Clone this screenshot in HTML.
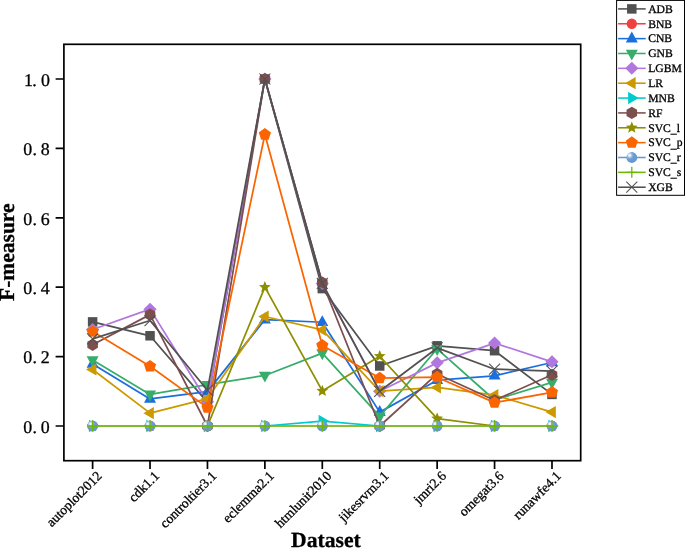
<!DOCTYPE html>
<html><head><meta charset="utf-8"><title>F-measure by Dataset</title>
<style>html,body{margin:0;padding:0;background:#fff}svg{display:block}text{font-family:"Liberation Serif",serif;text-rendering:geometricPrecision;fill:#000;stroke:#000;stroke-width:0.3px}</style></head><body>
<svg width="685" height="548" viewBox="0 0 685 548">
<defs><radialGradient id="sph" cx="0.3" cy="0.3" r="0.75" fx="0.3" fy="0.3"><stop offset="0" stop-color="#ffffff"/><stop offset="0.12" stop-color="#e4eef8"/><stop offset="0.32" stop-color="#8fb4de"/><stop offset="0.5" stop-color="#6b9dd3"/><stop offset="1" stop-color="#6397cf"/></radialGradient></defs>
<rect width="685" height="548" fill="#fff"/>
<g>
<polyline points="92.61,321.9 150.03,335.78 207.46,402.4 264.88,79 322.3,288.59 379.72,365.97 437.14,345.84 494.57,350.7 551.99,394.42" fill="none" stroke="#515151" stroke-width="1.75" stroke-linejoin="round"/>
<rect x="87.86" y="317.15" width="9.5" height="9.5" fill="#515151"/>
<rect x="145.28" y="331.03" width="9.5" height="9.5" fill="#515151"/>
<rect x="202.71" y="397.65" width="9.5" height="9.5" fill="#515151"/>
<rect x="260.13" y="74.25" width="9.5" height="9.5" fill="#515151"/>
<rect x="317.55" y="283.84" width="9.5" height="9.5" fill="#515151"/>
<rect x="374.97" y="361.22" width="9.5" height="9.5" fill="#515151"/>
<rect x="432.39" y="341.09" width="9.5" height="9.5" fill="#515151"/>
<rect x="489.82" y="345.95" width="9.5" height="9.5" fill="#515151"/>
<rect x="547.24" y="389.67" width="9.5" height="9.5" fill="#515151"/>
</g>
<g>
<polyline points="92.61,426 150.03,426 207.46,426 264.88,426 322.3,426 379.72,426 437.14,426 494.57,426 551.99,426" fill="none" stroke="#F14040" stroke-width="0.4" stroke-linejoin="round"/>
<circle cx="92.61" cy="426" r="5.15" fill="#F14040"/>
<circle cx="150.03" cy="426" r="5.15" fill="#F14040"/>
<circle cx="207.46" cy="426" r="5.15" fill="#F14040"/>
<circle cx="264.88" cy="426" r="5.15" fill="#F14040"/>
<circle cx="322.3" cy="426" r="5.15" fill="#F14040"/>
<circle cx="379.72" cy="426" r="5.15" fill="#F14040"/>
<circle cx="437.14" cy="426" r="5.15" fill="#F14040"/>
<circle cx="494.57" cy="426" r="5.15" fill="#F14040"/>
<circle cx="551.99" cy="426" r="5.15" fill="#F14040"/>
</g>
<g>
<polyline points="92.61,363.89 150.03,398.93 207.46,391.65 264.88,319.61 322.3,322.25 379.72,412.12 437.14,380.2 494.57,375.79 551.99,362.5" fill="none" stroke="#1A6FDF" stroke-width="1.75" stroke-linejoin="round"/>
<polygon points="92.61,356.79 98.61,367.69 86.61,367.69" fill="#1A6FDF"/>
<polygon points="150.03,391.83 156.03,402.73 144.03,402.73" fill="#1A6FDF"/>
<polygon points="207.46,384.55 213.46,395.45 201.46,395.45" fill="#1A6FDF"/>
<polygon points="264.88,312.51 270.88,323.41 258.88,323.41" fill="#1A6FDF"/>
<polygon points="322.3,315.15 328.3,326.05 316.3,326.05" fill="#1A6FDF"/>
<polygon points="379.72,405.02 385.72,415.92 373.72,415.92" fill="#1A6FDF"/>
<polygon points="437.14,373.1 443.14,384 431.14,384" fill="#1A6FDF"/>
<polygon points="494.57,368.69 500.57,379.59 488.57,379.59" fill="#1A6FDF"/>
<polygon points="551.99,355.4 557.99,366.3 545.99,366.3" fill="#1A6FDF"/>
</g>
<g>
<polyline points="92.61,360.07 150.03,394.42 207.46,384.71 264.88,375.48 322.3,353.13 379.72,416.42 437.14,348.79 494.57,399.98 551.99,382.45" fill="none" stroke="#37AD6B" stroke-width="1.75" stroke-linejoin="round"/>
<polygon points="92.61,367.17 98.61,356.27 86.61,356.27" fill="#37AD6B"/>
<polygon points="150.03,401.52 156.03,390.62 144.03,390.62" fill="#37AD6B"/>
<polygon points="207.46,391.81 213.46,380.91 201.46,380.91" fill="#37AD6B"/>
<polygon points="264.88,382.58 270.88,371.68 258.88,371.68" fill="#37AD6B"/>
<polygon points="322.3,360.23 328.3,349.33 316.3,349.33" fill="#37AD6B"/>
<polygon points="379.72,423.52 385.72,412.62 373.72,412.62" fill="#37AD6B"/>
<polygon points="437.14,355.89 443.14,344.99 431.14,344.99" fill="#37AD6B"/>
<polygon points="494.57,407.08 500.57,396.18 488.57,396.18" fill="#37AD6B"/>
<polygon points="551.99,389.55 557.99,378.65 545.99,378.65" fill="#37AD6B"/>
</g>
<g>
<polyline points="92.61,329.53 150.03,309.13 207.46,401.71 264.88,79 322.3,283.38 379.72,391.3 437.14,362.85 494.57,343.07 551.99,361.81" fill="none" stroke="#B177DE" stroke-width="1.75" stroke-linejoin="round"/>
<polygon points="92.61,323.03 99.21,329.53 92.61,336.03 86.01,329.53" fill="#B177DE"/>
<polygon points="150.03,302.63 156.63,309.13 150.03,315.63 143.43,309.13" fill="#B177DE"/>
<polygon points="207.46,395.21 214.06,401.71 207.46,408.21 200.86,401.71" fill="#B177DE"/>
<polygon points="264.88,72.5 271.48,79 264.88,85.5 258.28,79" fill="#B177DE"/>
<polygon points="322.3,276.88 328.9,283.38 322.3,289.88 315.7,283.38" fill="#B177DE"/>
<polygon points="379.72,384.8 386.32,391.3 379.72,397.8 373.12,391.3" fill="#B177DE"/>
<polygon points="437.14,356.35 443.74,362.85 437.14,369.35 430.54,362.85" fill="#B177DE"/>
<polygon points="494.57,336.57 501.17,343.07 494.57,349.57 487.97,343.07" fill="#B177DE"/>
<polygon points="551.99,355.31 558.59,361.81 551.99,368.31 545.39,361.81" fill="#B177DE"/>
</g>
<g>
<polyline points="92.61,369.44 150.03,413.16 207.46,398.59 264.88,316.52 322.3,329.88 379.72,391.2 437.14,387.48 494.57,395.12 551.99,412.12" fill="none" stroke="#CC9900" stroke-width="1.75" stroke-linejoin="round"/>
<polygon points="86.01,369.44 96.41,363.34 96.41,375.54" fill="#CC9900"/>
<polygon points="143.43,413.16 153.83,407.06 153.83,419.26" fill="#CC9900"/>
<polygon points="200.86,398.59 211.26,392.49 211.26,404.69" fill="#CC9900"/>
<polygon points="258.28,316.52 268.68,310.42 268.68,322.62" fill="#CC9900"/>
<polygon points="315.7,329.88 326.1,323.78 326.1,335.98" fill="#CC9900"/>
<polygon points="373.12,391.2 383.52,385.1 383.52,397.3" fill="#CC9900"/>
<polygon points="430.54,387.48 440.94,381.38 440.94,393.58" fill="#CC9900"/>
<polygon points="487.97,395.12 498.37,389.02 498.37,401.22" fill="#CC9900"/>
<polygon points="545.39,412.12 555.79,406.02 555.79,418.22" fill="#CC9900"/>
</g>
<g>
<polyline points="92.61,426 150.03,426 207.46,426 264.88,426" fill="none" stroke="#00CBCC" stroke-width="0.4" stroke-linejoin="round"/>
<polyline points="264.88,426 322.3,421.07 379.72,426" fill="none" stroke="#00CBCC" stroke-width="1.75" stroke-linejoin="round"/>
<polyline points="379.72,426 437.14,426 494.57,426 551.99,426" fill="none" stroke="#00CBCC" stroke-width="0.4" stroke-linejoin="round"/>
<polygon points="99.51,426 88.91,419.8 88.91,432.2" fill="#00CBCC"/>
<polygon points="156.93,426 146.33,419.8 146.33,432.2" fill="#00CBCC"/>
<polygon points="214.36,426 203.76,419.8 203.76,432.2" fill="#00CBCC"/>
<polygon points="271.78,426 261.18,419.8 261.18,432.2" fill="#00CBCC"/>
<polygon points="329.2,421.07 318.6,414.87 318.6,427.27" fill="#00CBCC"/>
<polygon points="386.62,426 376.02,419.8 376.02,432.2" fill="#00CBCC"/>
<polygon points="444.04,426 433.44,419.8 433.44,432.2" fill="#00CBCC"/>
<polygon points="501.47,426 490.87,419.8 490.87,432.2" fill="#00CBCC"/>
<polygon points="558.89,426 548.29,419.8 548.29,432.2" fill="#00CBCC"/>
</g>
<g>
<polyline points="92.61,344.8 150.03,314.61 207.46,426 264.88,79 322.3,282.48 379.72,426 437.14,373.95 494.57,400.32 551.99,374.78" fill="none" stroke="#7D4E4E" stroke-width="1.75" stroke-linejoin="round"/>
<polygon points="92.61,338.7 97.89,341.75 97.89,347.85 92.61,350.9 87.33,347.85 87.33,341.75" fill="#7D4E4E"/>
<polygon points="150.03,308.51 155.32,311.56 155.32,317.66 150.03,320.71 144.75,317.66 144.75,311.56" fill="#7D4E4E"/>
<polygon points="207.46,419.9 212.74,422.95 212.74,429.05 207.46,432.1 202.17,429.05 202.17,422.95" fill="#7D4E4E"/>
<polygon points="264.88,72.9 270.16,75.95 270.16,82.05 264.88,85.1 259.6,82.05 259.6,75.95" fill="#7D4E4E"/>
<polygon points="322.3,276.38 327.58,279.43 327.58,285.53 322.3,288.58 317.02,285.53 317.02,279.43" fill="#7D4E4E"/>
<polygon points="379.72,419.9 385,422.95 385,429.05 379.72,432.1 374.44,429.05 374.44,422.95" fill="#7D4E4E"/>
<polygon points="437.14,367.85 442.43,370.9 442.43,377 437.14,380.05 431.86,377 431.86,370.9" fill="#7D4E4E"/>
<polygon points="494.57,394.22 499.85,397.27 499.85,403.37 494.57,406.42 489.28,403.37 489.28,397.27" fill="#7D4E4E"/>
<polygon points="551.99,368.68 557.27,371.73 557.27,377.83 551.99,380.88 546.71,377.83 546.71,371.73" fill="#7D4E4E"/>
</g>
<g>
<polyline points="92.61,426 150.03,426 207.46,426" fill="none" stroke="#8E8E00" stroke-width="0.4" stroke-linejoin="round"/>
<polyline points="207.46,426 264.88,287.2 322.3,390.95 379.72,356.25 437.14,418.61 494.57,426" fill="none" stroke="#8E8E00" stroke-width="1.75" stroke-linejoin="round"/>
<polyline points="494.57,426 551.99,426" fill="none" stroke="#8E8E00" stroke-width="0.4" stroke-linejoin="round"/>
<polygon points="92.61,419.8 94.25,423.74 98.51,424.08 95.26,426.86 96.26,431.02 92.61,428.79 88.97,431.02 89.96,426.86 86.71,424.08 90.97,423.74" fill="#8E8E00"/>
<polygon points="150.03,419.8 151.67,423.74 155.93,424.08 152.69,426.86 153.68,431.02 150.03,428.79 146.39,431.02 147.38,426.86 144.14,424.08 148.39,423.74" fill="#8E8E00"/>
<polygon points="207.46,419.8 209.1,423.74 213.35,424.08 210.11,426.86 211.1,431.02 207.46,428.79 203.81,431.02 204.8,426.86 201.56,424.08 205.82,423.74" fill="#8E8E00"/>
<polygon points="264.88,281 266.52,284.94 270.77,285.28 267.53,288.06 268.52,292.22 264.88,289.99 261.23,292.22 262.22,288.06 258.98,285.28 263.24,284.94" fill="#8E8E00"/>
<polygon points="322.3,384.75 323.94,388.7 328.2,389.04 324.95,391.82 325.94,395.97 322.3,393.74 318.66,395.97 319.65,391.82 316.4,389.04 320.66,388.7" fill="#8E8E00"/>
<polygon points="379.72,350.05 381.36,354 385.62,354.34 382.38,357.12 383.37,361.27 379.72,359.04 376.08,361.27 377.07,357.12 373.83,354.34 378.08,354" fill="#8E8E00"/>
<polygon points="437.14,412.41 438.78,416.35 443.04,416.69 439.8,419.47 440.79,423.62 437.14,421.4 433.5,423.62 434.49,419.47 431.25,416.69 435.5,416.35" fill="#8E8E00"/>
<polygon points="494.57,419.8 496.21,423.74 500.46,424.08 497.22,426.86 498.21,431.02 494.57,428.79 490.92,431.02 491.91,426.86 488.67,424.08 492.93,423.74" fill="#8E8E00"/>
<polygon points="551.99,419.8 553.63,423.74 557.89,424.08 554.64,426.86 555.63,431.02 551.99,428.79 548.34,431.02 549.34,426.86 546.09,424.08 550.35,423.74" fill="#8E8E00"/>
</g>
<g>
<polyline points="92.61,331.62 150.03,366.32 207.46,407.61 264.88,134.52 322.3,345.5 379.72,378.11 437.14,377.18 494.57,402.65 551.99,392.34" fill="none" stroke="#FB6501" stroke-width="1.75" stroke-linejoin="round"/>
<polygon points="92.61,325.22 98.7,329.64 96.37,336.79 88.85,336.79 86.52,329.64" fill="#FB6501"/>
<polygon points="150.03,359.92 156.12,364.34 153.8,371.49 146.27,371.49 143.95,364.34" fill="#FB6501"/>
<polygon points="207.46,401.21 213.54,405.63 211.22,412.79 203.69,412.79 201.37,405.63" fill="#FB6501"/>
<polygon points="264.88,128.12 270.96,132.54 268.64,139.7 261.12,139.7 258.79,132.54" fill="#FB6501"/>
<polygon points="322.3,339.1 328.39,343.52 326.06,350.67 318.54,350.67 316.21,343.52" fill="#FB6501"/>
<polygon points="379.72,371.71 385.81,376.14 383.48,383.29 375.96,383.29 373.64,376.14" fill="#FB6501"/>
<polygon points="437.14,370.78 443.23,375.2 440.91,382.35 433.38,382.35 431.06,375.2" fill="#FB6501"/>
<polygon points="494.57,396.25 500.65,400.67 498.33,407.82 490.8,407.82 488.48,400.67" fill="#FB6501"/>
<polygon points="551.99,385.94 558.08,390.36 555.75,397.52 548.23,397.52 545.9,390.36" fill="#FB6501"/>
</g>
<g>
<polyline points="92.61,426 150.03,426 207.46,426 264.88,426 322.3,426 379.72,426 437.14,426 494.57,426 551.99,426" fill="none" stroke="#6699CC" stroke-width="0.4" stroke-linejoin="round"/>
<circle cx="92.61" cy="426" r="5.4" fill="url(#sph)"/>
<circle cx="150.03" cy="426" r="5.4" fill="url(#sph)"/>
<circle cx="207.46" cy="426" r="5.4" fill="url(#sph)"/>
<circle cx="264.88" cy="426" r="5.4" fill="url(#sph)"/>
<circle cx="322.3" cy="426" r="5.4" fill="url(#sph)"/>
<circle cx="379.72" cy="426" r="5.4" fill="url(#sph)"/>
<circle cx="437.14" cy="426" r="5.4" fill="url(#sph)"/>
<circle cx="494.57" cy="426" r="5.4" fill="url(#sph)"/>
<circle cx="551.99" cy="426" r="5.4" fill="url(#sph)"/>
</g>
<g>
<polyline points="92.61,426 150.03,426 207.46,426 264.88,426 322.3,426 379.72,426 437.14,426 494.57,426 551.99,426" fill="none" stroke="#6FB802" stroke-width="1.6" stroke-linejoin="round"/>
<path d="M92.61 420.5V431.5M87.11 426H98.11" stroke="#6FB802" stroke-width="1.3" fill="none"/>
<path d="M150.03 420.5V431.5M144.53 426H155.53" stroke="#6FB802" stroke-width="1.3" fill="none"/>
<path d="M207.46 420.5V431.5M201.96 426H212.96" stroke="#6FB802" stroke-width="1.3" fill="none"/>
<path d="M264.88 420.5V431.5M259.38 426H270.38" stroke="#6FB802" stroke-width="1.3" fill="none"/>
<path d="M322.3 420.5V431.5M316.8 426H327.8" stroke="#6FB802" stroke-width="1.3" fill="none"/>
<path d="M379.72 420.5V431.5M374.22 426H385.22" stroke="#6FB802" stroke-width="1.3" fill="none"/>
<path d="M437.14 420.5V431.5M431.64 426H442.64" stroke="#6FB802" stroke-width="1.3" fill="none"/>
<path d="M494.57 420.5V431.5M489.07 426H500.07" stroke="#6FB802" stroke-width="1.3" fill="none"/>
<path d="M551.99 420.5V431.5M546.49 426H557.49" stroke="#6FB802" stroke-width="1.3" fill="none"/>
</g>
<g>
<polyline points="92.61,338.9 150.03,320.51 207.46,390.26 264.88,79 322.3,283.38 379.72,391.3 437.14,347.93 494.57,369.2 551.99,371.17" fill="none" stroke="#515151" stroke-width="1.75" stroke-linejoin="round"/>
<path d="M87.11 333.4L98.11 344.4M87.11 344.4L98.11 333.4" stroke="#515151" stroke-width="1.05" fill="none"/>
<path d="M144.53 315.01L155.53 326.01M144.53 326.01L155.53 315.01" stroke="#515151" stroke-width="1.05" fill="none"/>
<path d="M201.96 384.76L212.96 395.76M201.96 395.76L212.96 384.76" stroke="#515151" stroke-width="1.05" fill="none"/>
<path d="M259.38 73.5L270.38 84.5M259.38 84.5L270.38 73.5" stroke="#515151" stroke-width="1.05" fill="none"/>
<path d="M316.8 277.88L327.8 288.88M316.8 288.88L327.8 277.88" stroke="#515151" stroke-width="1.05" fill="none"/>
<path d="M374.22 385.8L385.22 396.8M374.22 396.8L385.22 385.8" stroke="#515151" stroke-width="1.05" fill="none"/>
<path d="M431.64 342.43L442.64 353.43M431.64 353.43L442.64 342.43" stroke="#515151" stroke-width="1.05" fill="none"/>
<path d="M489.07 363.7L500.07 374.7M489.07 374.7L500.07 363.7" stroke="#515151" stroke-width="1.05" fill="none"/>
<path d="M546.49 365.67L557.49 376.67M546.49 376.67L557.49 365.67" stroke="#515151" stroke-width="1.05" fill="none"/>
</g>
<rect x="63.9" y="44.3" width="516.8" height="416.4" fill="none" stroke="#000" stroke-width="1.7"/>
<path d="M92.61 460.7v8.3M150.03 460.7v8.3M207.46 460.7v8.3M264.88 460.7v8.3M322.3 460.7v8.3M379.72 460.7v8.3M437.14 460.7v8.3M494.57 460.7v8.3M551.99 460.7v8.3M63.9 426h-8.3M63.9 356.6h-8.3M63.9 287.2h-8.3M63.9 217.8h-8.3M63.9 148.4h-8.3M63.9 79h-8.3" stroke="#000" stroke-width="1.7" fill="none"/>
<text x="23.3 32.5 40.7" y="432.7" font-size="17.9" stroke-width="0.05">0.0</text>
<text x="23.3 32.5 40.7" y="363.3" font-size="17.9" stroke-width="0.05">0.2</text>
<text x="23.3 32.5 40.7" y="293.9" font-size="17.9" stroke-width="0.05">0.4</text>
<text x="23.3 32.5 40.7" y="224.5" font-size="17.9" stroke-width="0.05">0.6</text>
<text x="23.3 32.5 40.7" y="155.1" font-size="17.9" stroke-width="0.05">0.8</text>
<text x="24 32.3 41" y="85.7" font-size="17.9" stroke-width="0.05">1.0</text>
<text transform="translate(102.51 476.8) rotate(-45)" text-anchor="end" font-size="13.58">autoplot2012</text>
<text transform="translate(159.93 476.8) rotate(-45)" text-anchor="end" font-size="13.58">cdk1.1</text>
<text transform="translate(217.36 476.8) rotate(-45)" text-anchor="end" font-size="13.58">controltier3.1</text>
<text transform="translate(274.78 476.8) rotate(-45)" text-anchor="end" font-size="13.58">eclemma2.1</text>
<text transform="translate(332.2 476.8) rotate(-45)" text-anchor="end" font-size="13.58">htmlunit2010</text>
<text transform="translate(389.62 476.8) rotate(-45)" text-anchor="end" font-size="13.58">jikesrvm3.1</text>
<text transform="translate(447.04 476.8) rotate(-45)" text-anchor="end" font-size="13.58">jmri2.6</text>
<text transform="translate(504.47 476.8) rotate(-45)" text-anchor="end" font-size="13.58">omegat3.6</text>
<text transform="translate(561.89 476.8) rotate(-45)" text-anchor="end" font-size="13.58">runawfe4.1</text>
<text x="325.9" y="547.3" text-anchor="middle" font-size="21.6" font-weight="bold">Dataset</text>
<text transform="translate(14.4 252.2) rotate(-90)" text-anchor="middle" font-size="21.5" font-weight="bold">F-measure</text>
<rect x="616.6" y="0.4" width="67.9" height="194.9" fill="#fff" stroke="#000" stroke-width="1"/>
<path d="M618.1 8.9H645.7" stroke="#515151" stroke-width="1.55" fill="none"/>
<rect x="627.05" y="4.15" width="9.5" height="9.5" fill="#515151"/>
<text x="648.2" y="12.7" font-size="11.65">ADB</text>
<path d="M618.1 23.76H645.7" stroke="#F14040" stroke-width="1.55" fill="none"/>
<circle cx="631.8" cy="23.76" r="5.15" fill="#F14040"/>
<text x="648.2" y="27.56" font-size="11.65">BNB</text>
<path d="M618.1 38.62H645.7" stroke="#1A6FDF" stroke-width="1.55" fill="none"/>
<polygon points="631.8,31.52 637.8,42.42 625.8,42.42" fill="#1A6FDF"/>
<text x="648.2" y="42.42" font-size="11.65">CNB</text>
<path d="M618.1 53.48H645.7" stroke="#37AD6B" stroke-width="1.55" fill="none"/>
<polygon points="631.8,60.58 637.8,49.68 625.8,49.68" fill="#37AD6B"/>
<text x="648.2" y="57.28" font-size="11.65">GNB</text>
<path d="M618.1 68.34H645.7" stroke="#B177DE" stroke-width="1.55" fill="none"/>
<polygon points="631.8,61.84 638.4,68.34 631.8,74.84 625.2,68.34" fill="#B177DE"/>
<text x="648.2" y="72.14" font-size="11.65">LGBM</text>
<path d="M618.1 83.2H645.7" stroke="#CC9900" stroke-width="1.55" fill="none"/>
<polygon points="625.2,83.2 635.6,77.1 635.6,89.3" fill="#CC9900"/>
<text x="648.2" y="87" font-size="11.65">LR</text>
<path d="M618.1 98.06H645.7" stroke="#00CBCC" stroke-width="1.55" fill="none"/>
<polygon points="638.7,98.06 628.1,91.86 628.1,104.26" fill="#00CBCC"/>
<text x="648.2" y="101.86" font-size="11.65">MNB</text>
<path d="M618.1 112.92H645.7" stroke="#7D4E4E" stroke-width="1.55" fill="none"/>
<polygon points="631.8,106.82 637.08,109.87 637.08,115.97 631.8,119.02 626.52,115.97 626.52,109.87" fill="#7D4E4E"/>
<text x="648.2" y="116.72" font-size="11.65">RF</text>
<path d="M618.1 127.78H645.7" stroke="#8E8E00" stroke-width="1.55" fill="none"/>
<polygon points="631.8,121.58 633.44,125.52 637.7,125.86 634.45,128.64 635.44,132.8 631.8,130.57 628.16,132.8 629.15,128.64 625.9,125.86 630.16,125.52" fill="#8E8E00"/>
<text x="648.2" y="131.58" font-size="11.65">SVC<tspan dy="1.1">_</tspan><tspan dy="-1.1">l</tspan></text>
<path d="M618.1 142.64H645.7" stroke="#FB6501" stroke-width="1.55" fill="none"/>
<polygon points="631.8,136.24 637.89,140.66 635.56,147.82 628.04,147.82 625.71,140.66" fill="#FB6501"/>
<text x="648.2" y="146.44" font-size="11.65">SVC<tspan dy="1.1">_</tspan><tspan dy="-1.1">p</tspan></text>
<path d="M618.1 157.5H645.7" stroke="#6699CC" stroke-width="1.55" fill="none"/>
<circle cx="631.8" cy="157.5" r="5.4" fill="url(#sph)"/>
<text x="648.2" y="161.3" font-size="11.65">SVC<tspan dy="1.1">_</tspan><tspan dy="-1.1">r</tspan></text>
<path d="M618.1 172.36H645.7" stroke="#6FB802" stroke-width="1.55" fill="none"/>
<path d="M631.8 166.86V177.86M626.3 172.36H637.3" stroke="#6FB802" stroke-width="1.3" fill="none"/>
<text x="648.2" y="176.16" font-size="11.65">SVC<tspan dy="1.1">_</tspan><tspan dy="-1.1">s</tspan></text>
<path d="M618.1 187.22H645.7" stroke="#515151" stroke-width="1.55" fill="none"/>
<path d="M626.3 181.72L637.3 192.72M626.3 192.72L637.3 181.72" stroke="#515151" stroke-width="1.05" fill="none"/>
<text x="648.2" y="191.02" font-size="11.65">XGB</text>
</svg></body></html>
